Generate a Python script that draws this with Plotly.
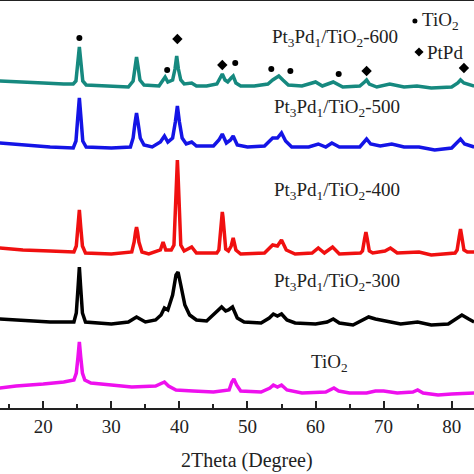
import plotly.graph_objects as go

# ---------------- data (2theta in degrees, intensity in a.u.) ----------------
x600 = [13.6, 16, 20, 23, 24.4, 24.8, 25.05, 25.3, 25.55, 25.8, 26.3, 30, 32.5, 33.2, 33.45, 33.7, 33.95, 34.2,
        34.8, 37, 37.6, 37.9, 38.3, 39.0, 39.35, 39.6, 39.85, 40.2, 40.7, 41.8, 42.5, 44, 45.5, 46.0, 46.3, 46.7,
        47.1, 47.6, 47.9, 48.3, 49, 51, 53, 53.7, 54.6, 55.2, 56, 58, 60, 61, 62.6, 64, 66.5, 67.2, 67.5,
        67.9, 69, 70.9, 73, 74.9, 77, 80, 80.9, 81.3, 81.8, 83.3]
y600 = [7, 6, 5, 4, 4, 7, 24, 41, 24, 7, 3, 2, 1, 7, 20, 31, 20, 8,
        3, 2, 8, 11, 6, 8, 19, 32, 19, 8, 4, 5, 2, 2, 4, 10, 14, 8,
        6, 10, 12, 5, 2, 2, 4, 8, 12, 8, 3, 2, 6, 2, 6, 1, 2, 6, 8,
        4, 1, 4, 1, 2, 0, 1, 5, 8, 5, 2]

x500 = [13.6, 17, 21, 24.4, 24.8, 25.05, 25.3, 25.55, 25.8, 26.3, 30, 32.8, 33.2, 33.45, 33.7, 33.95, 34.25, 34.8,
        36, 37.2, 37.8, 38.3, 39.0, 39.4, 39.7, 40.0, 40.4, 41.0, 41.8, 42.5, 45, 45.8, 46.3, 46.9, 47.5, 47.9,
        48.5, 50, 52.5, 53.7, 54.4, 55.0, 55.6, 56.5, 59, 60.4, 61.5, 62.4, 63.5, 66.5, 67.1, 67.5, 68.1, 69.5,
        71.2, 73, 75.2, 77.5, 80, 80.9, 81.3, 81.9, 83.3]
y500 = [7, 5, 3, 2, 9, 31, 52, 31, 9, 3, 2, 3, 12, 26, 37, 26, 12, 5,
        3, 8, 14, 8, 12, 28, 44, 28, 12, 6, 8, 4, 4, 10, 16, 7, 10, 14,
        5, 3, 4, 12, 12, 17, 9, 3, 3, 6, 3, 7, 3, 3, 8, 11, 6, 4,
        6, 3, 3, 0, 2, 8, 11, 6, 3]

x400 = [13.6, 17, 21, 24.5, 24.85, 25.1, 25.3, 25.5, 25.75, 26.2, 30, 33.0, 33.35, 33.55, 33.7, 33.85, 34.05,
        34.5, 35.5, 37.2, 37.6, 38.0, 38.8, 39.2, 39.45, 39.6, 39.7, 39.8, 39.95, 40.2, 40.7, 41.8, 42.5,
        45.5, 45.8, 46.05, 46.2, 46.3, 46.4, 46.55, 46.8, 47.2, 47.6, 47.9, 48.3, 49, 52.5, 53.7, 54.4,
        55.0, 55.7, 57, 59.5, 60.4, 61.3, 62.5, 63.5, 66.6, 66.9, 67.2, 67.4, 67.6, 67.9, 68.4, 70.2,
        71.0, 72, 75.2, 77, 80.5, 80.8, 81.1, 81.3, 81.5, 81.8, 82.3, 83.3]
y400 = [7, 5, 4, 3, 9, 28, 45, 28, 9, 2, 1, 3, 13, 23, 28, 23, 13,
        3, 1, 5, 13, 5, 5, 10, 45, 80, 95, 80, 45, 10, 4, 8, 2,
        2, 5, 22, 38, 43, 38, 22, 6, 4, 9, 17, 5, 1, 2, 10, 9,
        15, 5, 1, 2, 7, 2, 8, 1, 2, 4, 16, 23, 16, 4, 2, 4,
        7, 2, 3, 0, 2, 5, 18, 26, 18, 5, 3, 3]

x300 = [13.6, 17, 21, 24.5, 24.85, 25.1, 25.3, 25.5, 25.75, 26.2, 30, 32.5, 33.7, 35, 36.5, 37.3, 37.8,
        38.3, 39.0, 39.5, 39.8, 40.2, 40.8, 41.5, 42.5, 44, 45.5, 46.2, 46.8, 47.2, 47.8, 48.5, 49.5, 52,
        53.2, 53.8, 54.4, 55.0, 55.8, 57, 60, 61.7, 62.6, 63.5, 65.5, 67, 67.8, 68.8, 70.5, 72.5, 75, 77,
        79.5, 80.8, 81.5, 82.5, 83.3]
y300 = [7, 6, 4, 4, 13, 38, 59, 38, 13, 4, 2, 4, 9, 4, 6, 11, 18,
        16, 31, 51, 54, 41, 21, 11, 6, 5, 14, 19, 15, 16, 19, 8, 4, 3,
        8, 12, 10, 12, 6, 3, 2, 4, 7, 3, 1, 6, 9, 7, 5, 2, 4, 1,
        2, 8, 11, 7, 4]

xTiO2 = [13.6, 16, 20, 23, 24.5, 24.85, 25.1, 25.3, 25.5, 25.75, 26.1, 27, 30, 33, 36.5, 37.3, 37.8, 38.4,
         39.5, 42, 45, 47.3, 47.7, 48.0, 48.4, 49, 52, 53.3, 53.8, 54.4, 55.0, 55.8, 58, 61.5, 62.2, 62.7,
         63.4, 65, 67.5, 68.8, 70, 72, 74.3, 75, 75.8, 78, 80, 83.3]
yTiO2 = [7, 9, 11, 13, 15, 22, 38, 53, 38, 22, 15, 12, 10, 8, 9, 11, 13, 9,
         5, 4, 3, 5, 13, 16, 10, 4, 3, 7, 10, 8, 10, 5, 2, 3, 5, 7,
         4, 2, 2, 4, 4, 2, 3, 5, 2, 0, 1, 2]

series_x = [x600, x500, x400, x300, xTiO2]
series_y = [y600, y500, y400, y300, yTiO2]
offsets = [320, 258, 153, 82, 13]
colors = ["#16897f", "#1414e6", "#f01010", "#000000", "#ee10ee"]
labels = ["Pt<sub>3</sub>Pd<sub>1</sub>/TiO<sub>2</sub>-600",
          "Pt<sub>3</sub>Pd<sub>1</sub>/TiO<sub>2</sub>-500",
          "Pt<sub>3</sub>Pd<sub>1</sub>/TiO<sub>2</sub>-400",
          "Pt<sub>3</sub>Pd<sub>1</sub>/TiO<sub>2</sub>-300",
          "TiO<sub>2</sub>"]
label_pos = [(53.3, 370), (53.6, 300), (53.6, 217), (53.6, 126), (59.1, 45)]

# phase markers above the 600 pattern
tio2_x = [25.3, 38.2, 48.2, 53.5, 56.3, 63.4]
tio2_y = [370, 338, 345, 339, 337, 334]
ptpd_x = [39.7, 46.3, 67.5, 81.8]
ptpd_y = [369, 343, 337, 340]

xticks = [20, 30, 40, 50, 60, 70, 80]
FONT = "Times New Roman, Liberation Serif, serif"

fig = go.Figure()
for xs, ys, off, c in zip(series_x, series_y, offsets, colors):
    fig.add_trace(go.Scatter(x=xs, y=[v + off for v in ys], mode="lines",
                             line=dict(color=c, width=3.5), showlegend=False))

fig.add_trace(go.Scatter(x=tio2_x, y=tio2_y, mode="markers",
                         marker=dict(symbol="circle", size=6, color="black"), showlegend=False))
fig.add_trace(go.Scatter(x=ptpd_x, y=ptpd_y, mode="markers",
                         marker=dict(symbol="diamond", size=8, color="black"), showlegend=False))
# legend key markers
fig.add_trace(go.Scatter(x=[74.6], y=[387], mode="markers",
                         marker=dict(symbol="circle", size=5, color="black"), showlegend=False))
fig.add_trace(go.Scatter(x=[75.2], y=[356], mode="markers",
                         marker=dict(symbol="diamond", size=7, color="black"), showlegend=False))

annos = []
for txt, (lx, ly) in zip(labels, label_pos):
    annos.append(dict(x=lx, y=ly, xref="x", yref="y", text=txt, showarrow=False,
                      xanchor="left", yanchor="middle", font=dict(family=FONT, size=19, color="#222")))
annos.append(dict(x=75.3, y=387, xref="x", yref="y", text="TiO<sub>2</sub>", showarrow=False,
                  xanchor="left", yanchor="middle", font=dict(family=FONT, size=19, color="#222")))
annos.append(dict(x=76.1, y=356, xref="x", yref="y", text="PtPd", showarrow=False,
                  xanchor="left", yanchor="middle", font=dict(family=FONT, size=19, color="#222")))
annos.append(dict(x=247 / 474, y=-0.13, xref="paper", yref="paper", text="2Theta (Degree)",
                  showarrow=False, xanchor="center", yanchor="middle",
                  font=dict(family=FONT, size=20, color="#222")))

fig.update_layout(
    width=474, height=474,
    margin=dict(l=0, r=0, t=1, b=66),
    paper_bgcolor="white", plot_bgcolor="white",
    annotations=annos,
    xaxis=dict(range=[13.64, 83.28], tickvals=xticks, ticks="inside", ticklen=7, tickwidth=2,
               tickcolor="#222", showline=True, linewidth=2, linecolor="#222", mirror=True,
               showgrid=False, zeroline=False,
               tickfont=dict(family=FONT, size=19, color="#222"),
               minor=dict(tickvals=[15, 25, 35, 45, 55, 65, 75], ticks="inside", ticklen=4,
                          tickwidth=2, tickcolor="#222")),
    yaxis=dict(range=[0, 407], visible=False, showgrid=False, zeroline=False),
)

fig.write_html("out.html")
